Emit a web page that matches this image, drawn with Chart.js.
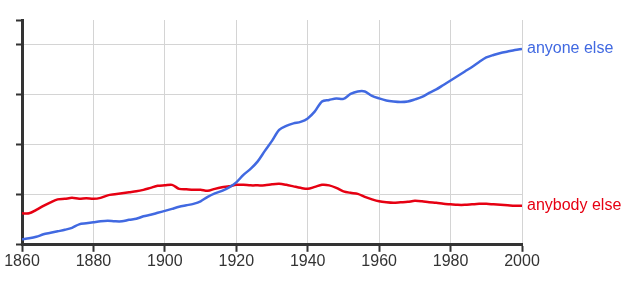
<!DOCTYPE html>
<html>
<head>
<meta charset="utf-8">
<script src="https://cdn.jsdelivr.net/npm/chart.js@4"></script>
<style>
  html, body { margin: 0; padding: 0; background: #fff; }
  #wrap { width: 634px; height: 283px; }
</style>
</head>
<body>
<div id="wrap"><canvas id="myChart" width="634" height="283"></canvas></div>
<script>
// ==========================================================
// DATA (gridline = 1 unit)
// ==========================================================
const years = [
    1860, 1862, 1864, 1866, 1868, 1870, 1872, 1874, 1876, 1878,
    1880, 1882, 1884, 1886, 1888, 1890, 1892, 1894, 1896, 1898,
    1900, 1902, 1904, 1906, 1908, 1910, 1912, 1914, 1916, 1918,
    1920, 1922, 1924, 1926, 1928, 1930, 1932, 1934, 1936, 1938,
    1940, 1942, 1944, 1946, 1948, 1950, 1952, 1954, 1956, 1958,
    1960, 1962, 1964, 1966, 1968, 1970, 1972, 1974, 1976, 1978,
    1980, 1982, 1984, 1986, 1988, 1990, 1992, 1994, 1996, 1998,
    2000
];

const anyoneElse = [
    0.11, 0.13, 0.16, 0.21, 0.24, 0.27, 0.30, 0.34, 0.41, 0.43,
    0.45, 0.47, 0.48, 0.47, 0.47, 0.50, 0.52, 0.57, 0.60, 0.64,
    0.68, 0.72, 0.76, 0.79, 0.82, 0.87, 0.96, 1.03, 1.08, 1.15,
    1.25, 1.40, 1.52, 1.67, 1.88, 2.08, 2.30, 2.38, 2.43, 2.46,
    2.53, 2.67, 2.87, 2.90, 2.93, 2.92, 3.02, 3.07, 3.07, 2.98,
    2.93, 2.89, 2.87, 2.86, 2.87, 2.91, 2.96, 3.04, 3.11, 3.20,
    3.29, 3.38, 3.47, 3.56, 3.66, 3.75, 3.80, 3.84, 3.87, 3.90,
    3.92
];

const anybodyElse = [
    0.63, 0.63, 0.70, 0.78, 0.85, 0.91, 0.92, 0.94, 0.92, 0.93,
    0.92, 0.94, 0.99, 1.01, 1.03, 1.05, 1.07, 1.10, 1.14, 1.18,
    1.19, 1.20, 1.12, 1.11, 1.10, 1.10, 1.08, 1.12, 1.15, 1.17,
    1.20, 1.20, 1.19, 1.19, 1.19, 1.21, 1.22, 1.20, 1.17, 1.14,
    1.12, 1.16, 1.20, 1.19, 1.14, 1.07, 1.04, 1.02, 0.96, 0.91,
    0.87, 0.85, 0.84, 0.85, 0.86, 0.88, 0.87, 0.85, 0.84, 0.82,
    0.81, 0.80, 0.80, 0.81, 0.82, 0.82, 0.81, 0.80, 0.79, 0.78,
    0.78
];

const seriesNames = ['anyone else', 'anybody else'];
const seriesColors = ['#4169e1', '#e60012'];

const yearTicks = [1860, 1880, 1900, 1920, 1940, 1960, 1980, 2000];
const yMax = 4.5;

// Label sa dulo ng bawat linya
const endLabels = {
    id: 'endLabels',
    afterDatasetsDraw(chart) {
        const ctx = chart.ctx;
        ctx.save();
        ctx.font = '16px "Liberation Sans", Arial, sans-serif';
        ctx.textBaseline = 'middle';
        ctx.textAlign = 'left';
        chart.data.datasets.forEach((ds, i) => {
            const meta = chart.getDatasetMeta(i);
            const last = meta.data[meta.data.length - 1];
            ctx.fillStyle = ds.borderColor;
            ctx.fillText(ds.label, last.x + 5, last.y);
        });
        ctx.restore();
    }
};

const ctx = document.getElementById('myChart').getContext('2d');

new Chart(ctx, {
    type: 'line',
    data: {
        datasets: [
            {
                label: seriesNames[0],
                data: years.map((y, i) => ({ x: y, y: anyoneElse[i] })),
                borderColor: seriesColors[0],
                borderWidth: 2.5,
                pointRadius: 0,
                tension: 0.3
            },
            {
                label: seriesNames[1],
                data: years.map((y, i) => ({ x: y, y: anybodyElse[i] })),
                borderColor: seriesColors[1],
                borderWidth: 2.5,
                pointRadius: 0,
                tension: 0.3
            }
        ]
    },
    options: {
        responsive: false,
        animation: false,
        layout: { padding: { top: 20, left: 16, right: 112, bottom: 12 } },
        plugins: {
            legend: { display: false },
            tooltip: { enabled: false }
        },
        scales: {
            x: {
                type: 'linear',
                min: 1860,
                max: 2000,
                afterBuildTicks: (scale) => {
                    scale.ticks = yearTicks.map(v => ({ value: v }));
                },
                ticks: {
                    color: '#333',
                    font: { family: '"Liberation Sans", Arial, sans-serif', size: 16 },
                    padding: 0,
                    maxRotation: 0,
                    autoSkip: false,
                    callback: (v) => String(v)
                },
                grid: {
                    color: (c) => c.tick && c.tick.value === 1860 ? 'rgba(0,0,0,0)' : '#d4d4d4',
                    lineWidth: 1,
                    tickColor: '#333',
                    tickLength: 7,
                    tickWidth: 2
                },
                border: { color: '#333', width: 3 }
            },
            y: {
                min: 0,
                max: yMax,
                ticks: { stepSize: 1, display: false },
                grid: {
                    color: (c) => (c.tick && (c.tick.value === 0 || c.tick.value === yMax)) ? 'rgba(0,0,0,0)' : '#d4d4d4',
                    lineWidth: 1,
                    tickColor: '#333',
                    tickLength: 6,
                    tickWidth: 2
                },
                border: { color: '#333', width: 3 }
            }
        }
    },
    plugins: [endLabels]
});
</script>
</body>
</html>
